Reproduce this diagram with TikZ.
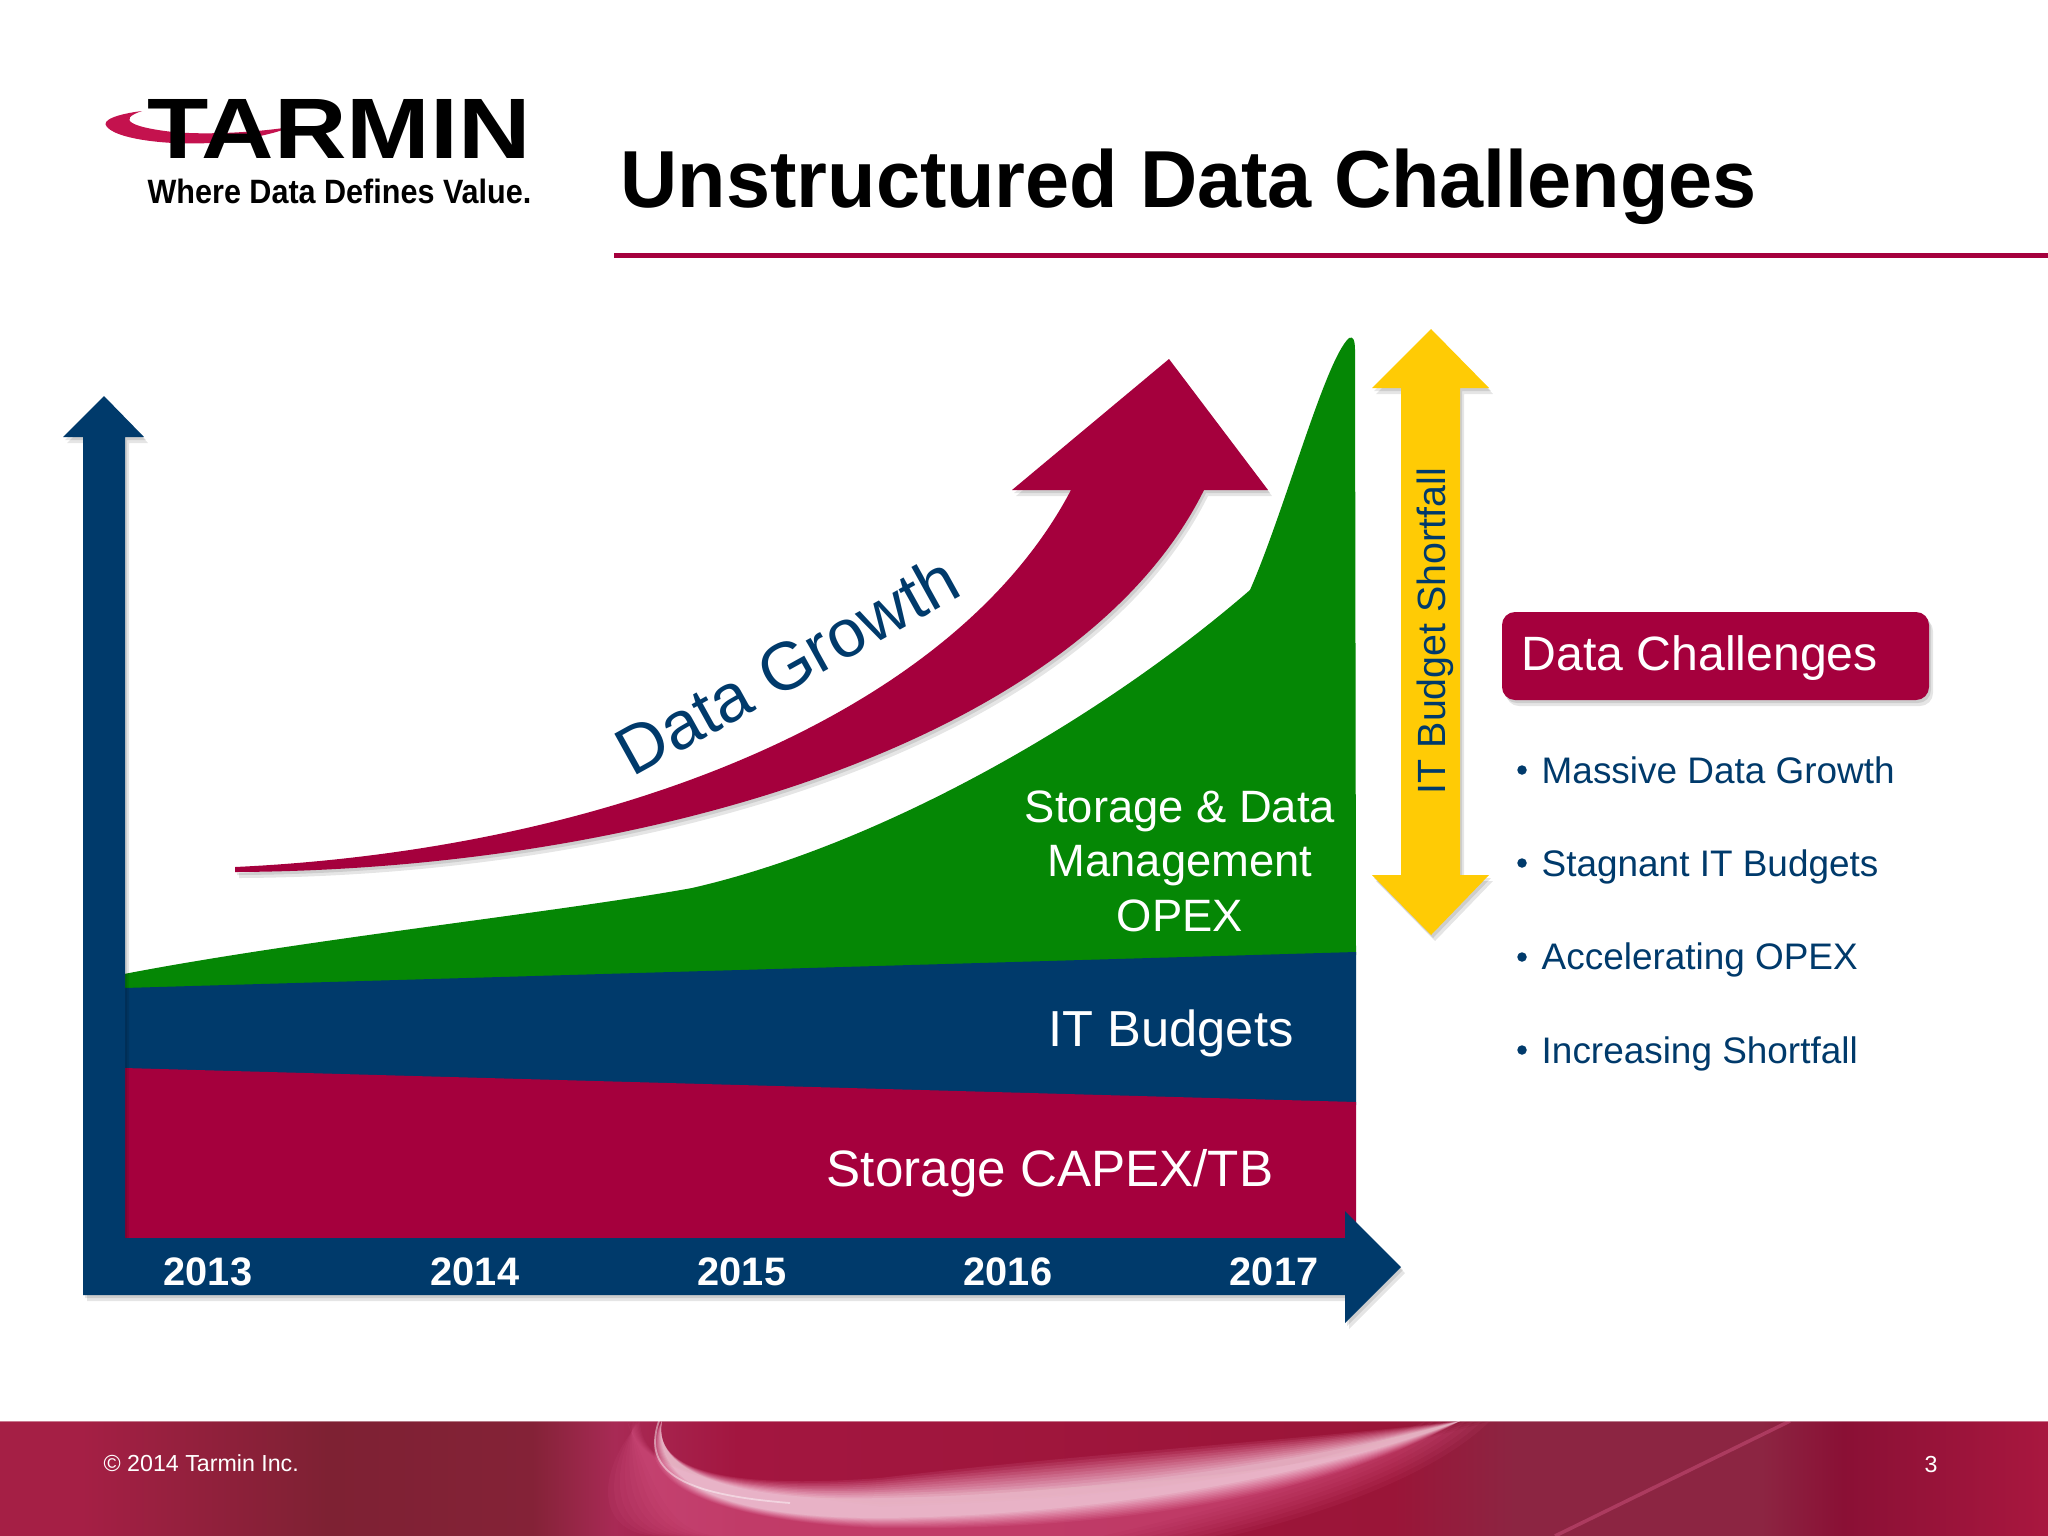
\documentclass[tikz,border=0pt]{standalone}
\usepackage{fontspec}
\setmainfont{Liberation Sans}
\usetikzlibrary{shadows,calc}
\definecolor{tarminred}{HTML}{A5003D}
\definecolor{tarminblue}{HTML}{003A6B}
\definecolor{chartgreen}{HTML}{058705}
\definecolor{gapyellow}{HTML}{FFCB05}
\definecolor{logored}{HTML}{C4124E}
\definecolor{swooshpink}{HTML}{DE5C8C}
\definecolor{foota}{HTML}{A51F45}
\definecolor{footb}{HTML}{7E2133}
\definecolor{footc}{HTML}{842237}
\definecolor{footd}{HTML}{A82A55}
\definecolor{foote}{HTML}{A31640}
\definecolor{footf}{HTML}{9A1538}
\definecolor{footg}{HTML}{8C2542}
\definecolor{footh}{HTML}{8A1035}
\definecolor{footi}{HTML}{A9173F}
\pgfdeclarehorizontalshading{footerbase}{100bp}{
color(0bp)=(foota);
color(27bp)=(foota);
color(33bp)=(footb);
color(38bp)=(footc);
color(40bp)=(footd);
color(43bp)=(foote);
color(59bp)=(footf);
color(62bp)=(footg);
color(68bp)=(footg);
color(70bp)=(footh);
color(75bp)=(footi);
color(100bp)=(footi)}
\newcommand{\sizept}[1]{\fontsize{#1}{#1}\selectfont}
\tikzset{softshadow/.style={drop shadow={shadow xshift=0.02cm,shadow yshift=-0.03cm,fill=black,opacity=0.1},
drop shadow={shadow xshift=0.04cm,shadow yshift=-0.06cm,fill=black,opacity=0.1}}}
\tikzset{yearlabel/.style={text=white,font=\sizept{11.3}\bfseries}}
\tikzset{bandlabel/.style={text=white,font=\sizept{14.4}}}
\tikzset{challengeitem/.style={text=tarminblue,anchor=base west,inner sep=0pt,font=\sizept{10.5}}}
\tikzset{challengedot/.style={circle,fill=tarminblue,inner sep=0pt,minimum size=0.095cm}}
\begin{document}
\begin{tikzpicture}[x=0.01cm,y=-0.01cm]
\useasboundingbox (0,0) rectangle (2048,1536);
\fill[white] (0,0) rectangle (2048,1536);
% logo
\fill[logored] (142,111) .. controls (118,114) and (100,120) .. (107,127) .. controls (120,142) and (190,147) .. (230,141) .. controls (255,138) and (280,132) .. (290,127) .. controls (260,132) and (200,136) .. (165,131) .. controls (135,127) and (115,120) .. (142,111) -- cycle;
\node[anchor=base west,inner sep=0pt,xscale=1.17,font=\sizept{24.4}\bfseries] (logoname) at (147,158) {TARMIN};
\node[anchor=base west,inner sep=0pt,xscale=0.905,font=\sizept{9.6}\bfseries] (logotag) at (147,203) {Where Data Defines Value.};
% title
\node[anchor=base west,inner sep=0pt,xscale=0.98,font=\sizept{23}\bfseries] (title) at (620,207) {Unstructured Data Challenges};
\fill[tarminred] (614,253) rectangle (2048,258);
% stacked bands
\fill[chartgreen] (124,974) .. controls (300,940) and (560,912) .. (692,888) .. controls (880,845) and (1100,720) .. (1250,590) .. controls (1285,510) and (1325,360) .. (1349,338) .. controls (1353,336) and (1355,340) .. (1355,350) -- (1356,955) -- (124,990) -- cycle;
\fill[tarminblue] (124,988) -- (1356,952) -- (1356,1105) -- (124,1070) -- cycle;
\fill[tarminred] (124,1068) -- (1356,1102) -- (1356,1240) -- (124,1240) -- cycle;
% axes
\fill[tarminblue,softshadow] (83,437) -- (63,437) -- (104,396) -- (144,437) -- (125,437) -- (125,1238) -- (1345,1238) -- (1345,1211) -- (1401,1267) -- (1345,1323) -- (1345,1295) -- (83,1295) -- cycle;
% growth arrow
\fill[tarminred,softshadow] (235,867) .. controls (600,850) and (950,720) .. (1071,490) -- (1012,490) -- (1169,359) -- (1268,490) -- (1204,490) .. controls (1080,740) and (650,870) .. (235,872) -- cycle;
\node[rotate=29,text=tarminblue,font=\sizept{19.2}] (growth) at (787,665) {Data Growth};
% shortfall arrow
\fill[gapyellow,softshadow] (1431,329) -- (1489,388) -- (1460,388) -- (1460,875) -- (1489,875) -- (1431,935) -- (1372,875) -- (1401,875) -- (1401,388) -- (1372,388) -- cycle;
\node[rotate=90,text=tarminblue,font=\sizept{11.2}] (shortfall) at (1435,631) {IT Budget Shortfall};
% chart labels
\node[bandlabel,font=\sizept{12.9},align=center] (opex) at (1180,861) {Storage \& Data\\[2.6pt]Management\\[2.6pt]OPEX};
\node[bandlabel] (budgets) at (1171,1033) {IT Budgets};
\node[bandlabel,font=\sizept{14.55}] (capex) at (1050,1173) {Storage CAPEX/TB};
\node[yearlabel] (y2013) at (208,1272) {2013};
\node[yearlabel] (y2014) at (475,1272) {2014};
\node[yearlabel] (y2015) at (742,1272) {2015};
\node[yearlabel] (y2016) at (1008,1272) {2016};
\node[yearlabel] (y2017) at (1274,1272) {2017};
% challenges
\fill[tarminred,softshadow,rounded corners=0.13cm] (1502,612) rectangle (1929,700);
\node[anchor=base west,inner sep=0pt,text=white,font=\sizept{13.7}] (challenges) at (1521,670) {Data Challenges};
\node[challengedot] (dota) at (1522,770) {};
\node[challengedot] (dotb) at (1522,863) {};
\node[challengedot] (dotc) at (1522,957) {};
\node[challengedot] (dotd) at (1522,1050) {};
\node[challengeitem] (itema) at (1541,783) {Massive Data Growth};
\node[challengeitem] (itemb) at (1541,876) {Stagnant IT Budgets};
\node[challengeitem] (itemc) at (1541,969) {Accelerating OPEX};
\node[challengeitem] (itemd) at (1541,1063) {Increasing Shortfall};
% footer
\shade[shading=footerbase] (0,1421) rectangle (2048,1536);
\begin{scope}
\clip (0,1421) rectangle (2048,1536);
\foreach \w in {0,8,...,64} {
\fill[swooshpink,opacity=0.09] (640-\w*0.2,1421) .. controls (590+\w,1480) and (600+\w,1536) .. (660+\w,1536) -- (1230-2*\w,1536) .. controls (1340-2*\w,1510) and (1440-\w,1470) .. (1490-\w,1421) .. controls (1310,1475) and (1100,1490+0.2*\w) .. (880,1490+0.3*\w) .. controls (750,1490) and (640,1480) .. (640-\w*0.2,1421) -- cycle;
}
\foreach \t [evaluate=\t as \p using 100-1.6*\t] in {50,45,...,0} {
\fill[white!\p!swooshpink,opacity=0.14] (662,1421) .. controls (650,1480) and (760,1502-0.3*\t) .. (880,1498-0.4*\t) .. controls (1070,1495-0.8*\t) and (1300,1465-0.5*\t) .. (1460,1421) .. controls (1310,1478+0.5*\t) and (1090,1516+0.3*\t) .. (880,1518+0.2*\t) .. controls (740,1518+0.1*\t) and (650-0.6*\t,1490) .. (662,1421) -- cycle;
}
\draw[white,opacity=0.45,line width=0.5pt] (659,1421) .. controls (640,1475) and (690,1495) .. (790,1503);
\draw[swooshpink,opacity=0.4,line width=1pt] (1790,1421) -- (1555,1536);
\end{scope}
\fill[white,opacity=0.4] (0,1420) rectangle (2048,1422);
\node[anchor=west,inner sep=0pt,text=white,font=\sizept{6.6}] (copyright) at (103,1463) {© 2014 Tarmin Inc.};
\node[inner sep=0pt,text=white,font=\sizept{6.6}] (pagenum) at (1931,1464) {3};
\end{tikzpicture}
\end{document}
